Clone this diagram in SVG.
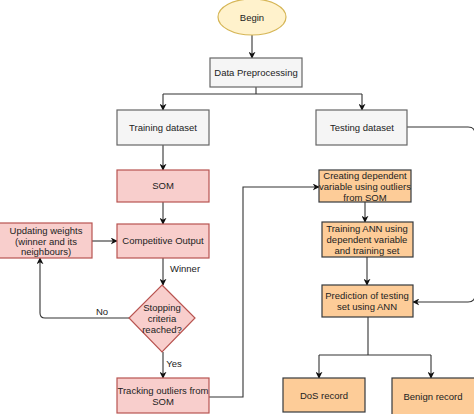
<svg xmlns="http://www.w3.org/2000/svg" width="474" height="414" viewBox="0 0 474 414">
<defs>
<marker id="ah" viewBox="0 0 10 10" refX="9" refY="5" markerWidth="7" markerHeight="7" orient="auto" markerUnits="userSpaceOnUse">
<path d="M0,0 L10,5 L0,10 L3,5 Z" fill="#111"/>
</marker>
<style>
text{font-family:"Liberation Sans",Arial,sans-serif;font-size:9.5px;fill:#222;text-anchor:middle}
.g{fill:#f5f5f5;stroke:#666666;stroke-width:1.2}
.p{fill:#f8cecc;stroke:#b85450;stroke-width:1.2}
.o{fill:#fdcc98;stroke:#36393d;stroke-width:1.2}
.y{fill:#fff2cc;stroke:#d6b656;stroke-width:1.2}
.c{fill:none;stroke:#333;stroke-width:1.1}
.a{marker-end:url(#ah)}
</style>
</defs>
<rect width="474" height="414" fill="#ffffff"/>
<g id="connectors">
<path class="c a" d="M252,35 V58"/>
<path class="c" d="M256,87 V94 M163,94 H362"/>
<path class="c a" d="M163,94 V110"/>
<path class="c a" d="M362,94 V110"/>
<path class="c a" d="M163,145 V170"/>
<path class="c a" d="M163,202 V224"/>
<path class="c a" d="M92,241 H117"/>
<path class="c a" d="M163,258 V285"/>
<path class="c a" d="M129,318 H45 Q40,318 40,313 V258"/>
<path class="c a" d="M163,352 V378"/>
<path class="c a" d="M209,397 H243 V187 H319"/>
<path class="c a" d="M365,202 V222"/>
<path class="c a" d="M367,257 V285"/>
<path class="c a" d="M407,127 H468 Q475,127 475,134 V295 Q475,302 468,302 H413"/>
<path class="c" d="M368,317 V355 M319,355 H431"/>
<path class="c a" d="M319,355 V378"/>
<path class="c a" d="M431,355 V378"/>
<text x="185" y="272" style="text-anchor:middle">Winner</text>
<text x="102" y="315">No</text>
<text x="174" y="367">Yes</text>
</g>
<g id="begin"><ellipse class="y" cx="252" cy="17" rx="34" ry="18"/><text x="252" y="21">Begin</text></g>
<g id="preprocessing"><rect class="g" x="210" y="58" width="92" height="29"/><text x="256" y="76">Data Preprocessing</text></g>
<g id="training"><rect class="g" x="117" y="110" width="92" height="35"/><text x="163" y="131">Training dataset</text></g>
<g id="testing"><rect class="g" x="316" y="110" width="91" height="35"/><text x="362" y="131">Testing dataset</text></g>
<g id="som"><rect class="p" x="117" y="170" width="92" height="32"/><text x="163" y="189">SOM</text></g>
<g id="competitive"><rect class="p" x="117" y="224" width="92" height="34"/><text x="163" y="244">Competitive Output</text></g>
<g id="updating"><rect class="p" x="-1" y="223" width="93" height="35"/><text x="46" y="234">Updating weights</text><text x="46" y="244.5">(winner and its</text><text x="46" y="255">neighbours)</text></g>
<g id="stopping"><polygon class="p" points="162,285 195,318 162,352 129,318"/><text x="162" y="311">Stopping</text><text x="162" y="322">criteria</text><text x="162" y="333">reached?</text></g>
<g id="tracking"><rect class="p" x="117" y="378" width="92" height="35"/><text x="163" y="394">Tracking outliers from</text><text x="163" y="405">SOM</text></g>
<g id="creating"><rect class="o" x="319" y="170" width="92" height="32"/><text x="365" y="179">Creating dependent</text><text x="365" y="190">variable using outliers</text><text x="365" y="201">from SOM</text></g>
<g id="trainann"><rect class="o" x="322" y="222" width="91" height="35"/><text x="367" y="232">Training ANN using</text><text x="367" y="243">dependent variable</text><text x="367" y="254">and training set</text></g>
<g id="prediction"><rect class="o" x="322" y="285" width="91" height="32"/><text x="367" y="299">Prediction of testing</text><text x="367" y="310">set using ANN</text></g>
<g id="dos"><rect class="o" x="283" y="378" width="82" height="34"/><text x="324" y="399">DoS record</text></g>
<g id="benign"><rect class="o" x="392" y="378" width="84" height="40"/><text x="433" y="400">Benign record</text></g>
</svg>
